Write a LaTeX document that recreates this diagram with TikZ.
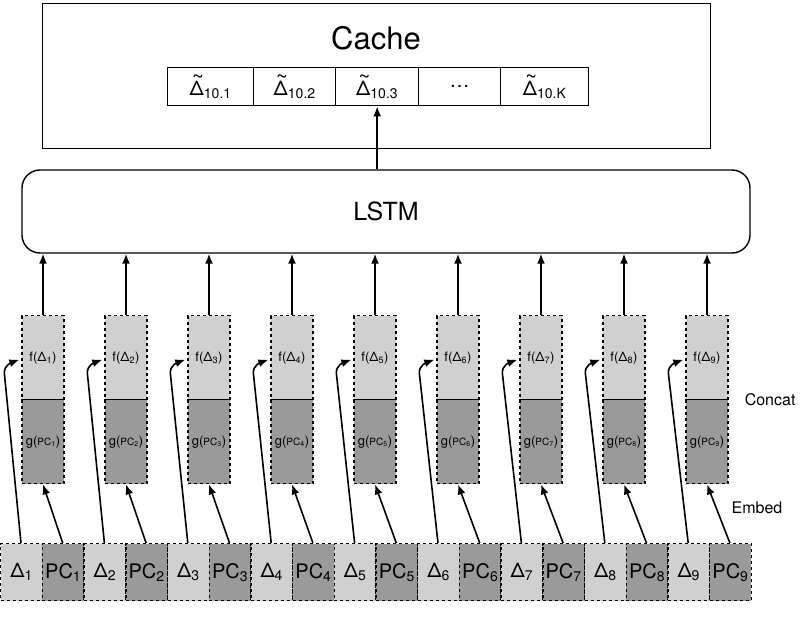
\documentclass[tikz,border=0pt]{standalone}
\usepackage{fontspec}
\setmainfont{TeX Gyre Heros}
\usetikzlibrary{arrows.meta}
\definecolor{lg}{HTML}{D0D0D0}
\definecolor{dg}{HTML}{9A9A9A}
\newcommand\myTD{\leavevmode\rlap{\raisebox{0.62em}{\hspace{0.12em}\textasciitilde}}Δ}
\begin{document}
\begin{tikzpicture}[x=1pt,y=-1pt,
  cell/.style={draw,dashed,line width=1.4pt,minimum width=41.7pt,minimum height=57pt,inner sep=0pt,anchor=north west,font=\fontsize{20}{22}\selectfont},
  half/.style={draw,dashed,line width=1.4pt,minimum width=42pt,minimum height=84pt,inner sep=0pt,anchor=north,font=\fontsize{13}{14}\selectfont},
  arr/.style={-{Latex[length=10pt,width=8pt]},line width=1.6pt},
  kc/.style={draw,line width=1.4pt,minimum height=38pt,inner sep=0pt,anchor=north west,font=\fontsize{20}{22}\selectfont}]
\useasboundingbox (0,0) rectangle (800,634);
% cache
\node[draw,line width=1.4pt,minimum width=668pt,minimum height=145pt,anchor=north west,inner sep=0pt] (cache) at (42,3) {};
\node[font=\fontsize{31}{33}\selectfont] (ct) at (376,38) {Cache};
\node[kc,minimum width=86pt] (k1) at (167,67) {\myTD\textsubscript{10.1}};
\node[kc,minimum width=82pt] (k2) at (253,67) {\myTD\textsubscript{10.2}};
\node[kc,minimum width=83pt] (k3) at (335,67) {\myTD\textsubscript{10.3}};
\node[kc,minimum width=82pt] (k4) at (418,67) {…};
\node[kc,minimum width=88pt] (k5) at (500,67) {\myTD\textsubscript{10.K}};
% lstm
\node[draw,line width=1.4pt,rounded corners=18pt,minimum width=728pt,minimum height=83pt,inner sep=0pt,font=\fontsize{25}{27}\selectfont] (lstm) at (386,211.5) {LSTM};
\draw[arr] (lstm.north -| k3.south) -- (k3.south);
\foreach \i in {1,...,9}{
  \pgfmathsetmacro{\cx}{43+83*(\i-1)}
  \pgfmathsetmacro{\bx}{41.7*2*(\i-1)}
  \node[half,fill=lg] (f\i) at (\cx,315) {f(Δ\textsubscript{\i})};
  \node[half,fill=dg] (g\i) at (\cx,399) {g({\fontsize{10}{11}\selectfont PC\textsubscript{\i}})};
  \node[cell,fill=lg] (d\i) at (\bx,543) {Δ\textsubscript{\i}};
  \node[cell,fill=dg] (p\i) at (\bx+41.7,543) {PC\textsubscript{\i}};
  \draw[arr] (f\i.north) -- (f\i.north |- lstm.south);
  \draw[arr] ([xshift=21pt]d\i.north west) -- ([xshift=-17pt,yshift=-15pt]f\i.west) to[out=90,in=200] ([xshift=-2pt,yshift=-2pt]f\i.west);
  \draw[arr] ([xshift=21pt]p\i.north west) -- (g\i.south);
}
\node[font=\fontsize{16}{18}\selectfont,anchor=east] (concat) at (799,400) {Concat};
\node[font=\fontsize{16}{18}\selectfont] (embed) at (757,508) {Embed};
\end{tikzpicture}
\end{document}
